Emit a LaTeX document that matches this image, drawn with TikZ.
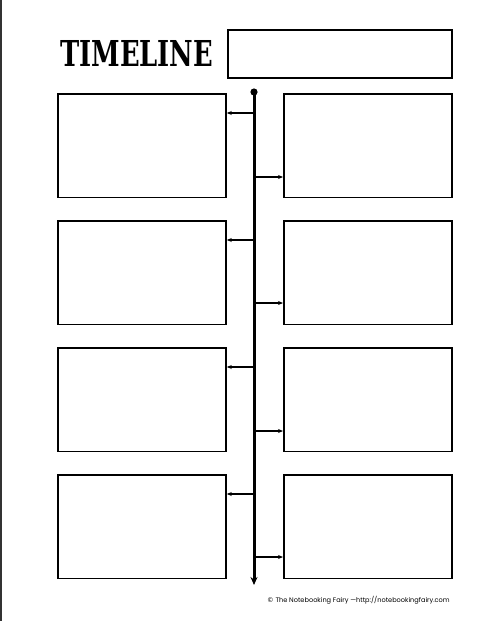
\documentclass[tikz,border=0pt]{standalone}
\usepackage{fontspec}
\usepackage{graphicx}
\newfontfamily\titlefont{DejaVu Serif}
\newfontfamily\footfont{Poppins}
\newfontfamily\symfont{DejaVu Sans}
\usetikzlibrary{arrows.meta}
\begin{document}
\begin{tikzpicture}[x=1pt,y=-1pt,
  card/.style={draw, line width=1.8pt, minimum width=168pt, minimum height=103.5pt, inner sep=0pt, anchor=north west},
  arr/.style={line width=1.2pt, -{Stealth[length=5pt,width=4pt]}},
  spine/.style={line width=3pt, -{Stealth[length=8pt,width=7pt]}}]
\useasboundingbox (0,0) rectangle (480,621);
\fill[white] (0,0) rectangle (480,621);
\fill[black!80] (0,0) rectangle (1.6,621);
% title
\node[anchor=north west, inner sep=0pt] (title) at (60,40)
  {\resizebox{153pt}{26pt}{\titlefont\bfseries TIMELINE}};
\node[draw, line width=1.8pt, minimum width=224pt, minimum height=48pt, inner sep=0pt, anchor=north west] (tbox) at (227,29) {};
% cards
\foreach \i/\y in {1/93,2/220,3/347,4/474}{
  \node[card] (l\i) at (57,\y) {};
  \node[card] (r\i) at (283,\y) {};
}
% spine
\coordinate (top) at (254,92);
\coordinate (bot) at (254,585);
\draw[spine] (top) -- (bot);
\fill (top) circle (3.6pt);
% arrows
\foreach \i/\ya/\yb in {1/113/177,2/240/303,3/367/431,4/494/557}{
  \coordinate (a\i) at (254,\ya);
  \coordinate (b\i) at (254,\yb);
  \draw[arr] (a\i) -- (a\i -| l\i.east);
  \draw[arr] (b\i) -- (b\i -| r\i.west);
}
% footer
\node[anchor=west, inner sep=0pt, font=\footfont\fontsize{6.6}{7}\selectfont] (foot) at (267,600)
  {{\symfont ©} The Notebooking Fairy —http://notebookingfairy.com};
\end{tikzpicture}
\end{document}
